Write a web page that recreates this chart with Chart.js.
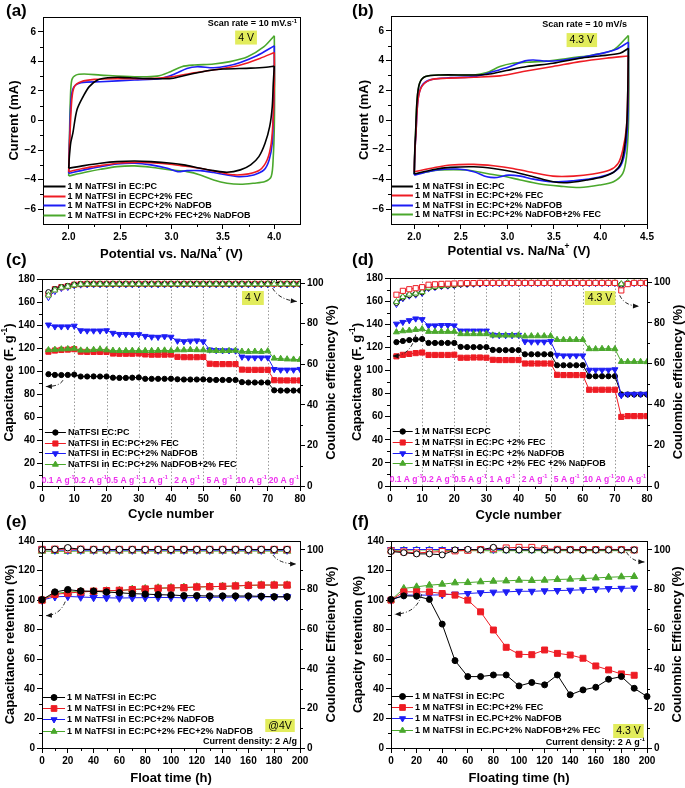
<!DOCTYPE html>
<html><head><meta charset="utf-8">
<script src="https://cdn.jsdelivr.net/npm/chart.js@4.4.1/dist/chart.umd.min.js"></script>
<style>
html,body{margin:0;padding:0;background:#fff;}
#wrap{position:relative;width:685px;height:788px;overflow:hidden;background:#fff;}
canvas{position:absolute;left:0;top:0;}
</style></head><body><div id="wrap"></div>
<script>
// ---------------- DATA ----------------
// (a) CV at 4 V : [potential V, current mA]; anodic (up) and cathodic (dn) scans
const a_blk_up=[[2.0,-3.23],[2.006,-2.5],[2.02,-1.5],[2.04,-0.87],[2.08,0.71],[2.14,1.61],[2.2,2.29],[2.28,2.74],[2.38,2.89],[2.5,2.92],[2.65,2.87],[2.8,2.83],[3.0,2.85],[3.15,3.08],[3.35,3.37],[3.5,3.48],[3.77,3.54],[3.92,3.6],[4.0,3.68]];
const a_blk_dn=[[4.0,3.68],[3.99,2.5],[3.98,0.93],[3.955,-0.42],[3.91,-1.54],[3.85,-2.44],[3.77,-3.0],[3.67,-3.34],[3.54,-3.5],[3.41,-3.39],[3.28,-3.23],[3.12,-3.0],[3.0,-2.89],[2.8,-2.78],[2.64,-2.74],[2.47,-2.78],[2.31,-2.89],[2.15,-3.05],[2.0,-3.23]];
const a_red_up=[[2.0,-3.46],[2.006,-2.0],[2.013,-0.87],[2.03,1.39],[2.055,2.29],[2.12,2.62],[2.25,2.78],[2.5,2.83],[2.8,2.83],[3.0,2.96],[3.22,3.23],[3.5,3.52],[3.67,3.75],[3.86,4.2],[4.0,4.6]];
const a_red_dn=[[4.0,4.6],[4.0,2.5],[3.99,0.26],[3.97,-1.54],[3.93,-2.67],[3.86,-3.34],[3.75,-3.61],[3.61,-3.68],[3.48,-3.52],[3.28,-3.23],[3.09,-3.05],[2.96,-2.94],[2.8,-2.85],[2.64,-2.83],[2.47,-2.89],[2.31,-3.05],[2.15,-3.23],[2.0,-3.46]];
const a_blu_up=[[2.0,-3.57],[2.005,-2.0],[2.01,-0.87],[2.023,1.39],[2.048,2.24],[2.12,2.55],[2.31,2.62],[2.64,2.74],[2.9,2.85],[3.03,3.14],[3.15,3.52],[3.25,3.64],[3.41,3.57],[3.54,3.68],[3.67,3.93],[3.83,4.38],[4.0,5.05]];
const a_blu_dn=[[4.0,5.05],[4.0,2.5],[3.99,0.26],[3.98,-1.54],[3.95,-2.67],[3.9,-3.34],[3.8,-3.68],[3.67,-3.8],[3.54,-3.68],[3.41,-3.52],[3.28,-3.39],[3.15,-3.39],[3.06,-3.46],[2.96,-3.23],[2.8,-3.0],[2.64,-2.89],[2.47,-2.94],[2.31,-3.12],[2.15,-3.34],[2.0,-3.57]];
const a_grn_up=[[2.0,-3.75],[2.004,-2.0],[2.008,-0.87],[2.016,1.39],[2.03,2.74],[2.07,3.07],[2.15,3.14],[2.31,3.07],[2.64,2.96],[2.86,3.0],[2.99,3.3],[3.1,3.64],[3.22,3.75],[3.41,3.82],[3.57,3.98],[3.74,4.31],[3.9,4.99],[4.0,5.73]];
const a_grn_dn=[[4.0,5.73],[4.003,2.5],[4.0,-0.42],[3.99,-2.44],[3.97,-3.79],[3.91,-4.13],[3.8,-4.24],[3.67,-4.31],[3.54,-4.24],[3.41,-4.02],[3.28,-3.68],[3.15,-3.46],[2.99,-3.34],[2.8,-3.16],[2.64,-3.07],[2.47,-3.12],[2.31,-3.3],[2.15,-3.52],[2.0,-3.75]];
// (b) CV at 4.3 V
const b_blk_up=[[2.0,-3.64],[2.005,-2.2],[2.014,-0.9],[2.03,1.35],[2.057,2.47],[2.12,2.92],[2.28,3.03],[2.64,3.03],[2.81,3.1],[2.99,3.33],[3.21,3.6],[3.49,3.82],[3.78,4.16],[3.99,4.31],[4.21,4.49],[4.3,4.83]];
const b_blk_dn=[[4.3,4.83],[4.295,2.47],[4.285,0],[4.26,-1.8],[4.22,-2.92],[4.15,-3.48],[4.03,-3.82],[3.85,-4.04],[3.64,-4.22],[3.49,-4.16],[3.28,-3.82],[3.06,-3.48],[2.85,-3.26],[2.64,-3.15],[2.39,-3.19],[2.21,-3.33],[2.0,-3.64]];
const b_red_up=[[2.0,-3.48],[2.006,-2.2],[2.018,-0.9],[2.04,1.35],[2.08,2.25],[2.17,2.7],[2.35,2.81],[2.64,2.88],[2.92,2.97],[3.17,3.26],[3.49,3.6],[3.78,3.93],[4.06,4.16],[4.3,4.31]];
const b_red_dn=[[4.3,4.31],[4.295,2.25],[4.28,-0.45],[4.24,-2.02],[4.19,-2.92],[4.1,-3.37],[3.92,-3.64],[3.71,-3.78],[3.49,-3.78],[3.28,-3.55],[3.06,-3.26],[2.85,-3.08],[2.64,-2.99],[2.39,-3.03],[2.21,-3.21],[2.0,-3.48]];
const b_blu_up=[[2.0,-3.71],[2.006,-2.2],[2.018,-0.9],[2.04,1.35],[2.08,2.29],[2.17,2.7],[2.39,2.85],[2.64,2.92],[2.85,3.26],[3.03,3.6],[3.19,3.98],[3.28,4.04],[3.42,3.96],[3.56,4.0],[3.78,4.2],[3.99,4.45],[4.17,4.76],[4.3,5.24]];
const b_blu_dn=[[4.3,5.24],[4.3,2.25],[4.29,-0.45],[4.26,-2.25],[4.21,-3.15],[4.1,-3.64],[3.92,-3.93],[3.71,-4.09],[3.49,-4.16],[3.28,-3.98],[3.14,-3.78],[3.01,-3.71],[2.89,-3.87],[2.78,-3.82],[2.64,-3.48],[2.46,-3.3],[2.24,-3.37],[2.0,-3.71]];
const b_grn_up=[[2.0,-3.64],[2.005,-2.2],[2.014,-0.9],[2.03,1.35],[2.06,2.52],[2.12,2.92],[2.28,3.03],[2.64,3.03],[2.78,3.19],[2.92,3.6],[3.06,3.82],[3.21,3.89],[3.42,3.96],[3.71,4.2],[3.92,4.38],[4.14,4.72],[4.3,5.69]];
const b_grn_dn=[[4.3,5.69],[4.305,2.25],[4.3,-0.45],[4.28,-2.47],[4.24,-3.6],[4.14,-4.16],[3.99,-4.38],[3.78,-4.54],[3.56,-4.45],[3.35,-4.31],[3.14,-4.04],[2.99,-3.82],[2.78,-3.6],[2.56,-3.37],[2.28,-3.37],[2.0,-3.64]];

// (c),(d) rate tests: cycle numbers
const cycles=[2,4,6,8,10,12,14,16,18,20,22,24,26,28,30,32,34,36,38,40,42,44,46,48,50,52,54,56,58,60,62,64,66,68,70,72,74,76,78,80];
const rateLabels=['0.1 A g^{-1}','0.2 A g^{-1}','0.5 A g^{-1}','1 A g^{-1}','2 A g^{-1}','5 A g^{-1}','10 A g^{-1}','20 A g^{-1}'];
const rateLabelX=[5,15,25,35,45,55,65,75];
// (c) 4 V capacitance (F/g)
const c_blk=[97.2,96.6,96.5,96.6,96.9,95.2,95.2,95.3,95.2,95.2,94.2,94,94,94.2,94.4,93.2,93.2,93.2,93.2,93.3,92.8,92.6,92.6,92.6,92.7,92.3,92.2,92.2,92.2,92.2,90.3,90,90,90,90,83.2,83,83,83,83];
const c_red=[116.8,117.8,118.3,118.6,119,116.8,116.6,116.6,116.6,116.6,115.2,115,115,115,115.2,114.4,114.2,114.2,114.2,114.3,112.3,112,112,112,112.2,106.3,106,106,106,106,101.2,101,101,101,101,92,91.8,91.8,91.8,91.8];
const c_blu=[140.2,138.6,138.6,138.6,139.2,135.2,135,135,135,135.2,133,132,132,131.8,131.8,130.3,129.7,129.5,130,129.6,126.2,125.7,126.2,126.4,125.6,118.5,118,117.8,117.8,117.6,112.3,111.6,111.6,111.6,111.6,101.5,101,101,101,101.6];
const c_grn=[118.3,118.6,119,119.2,119.6,118,118,118.5,119,118.2,117.8,117.6,117.6,117.8,117.6,117.6,117.6,117.8,118,117.6,118.2,118.2,118.5,118.3,118.2,117.8,117.6,117.5,117.6,117.8,117,116.8,117,116.8,117.3,111,110.7,110.3,110.1,109.9];
// (c) coulombic efficiency (%)
const c_blk_ce=[95.5,97,98,98.6,99.2,99.5,99.6,99.6,99.6,99.6,99.6,99.6,99.6,99.6,99.6,99.6,99.6,99.6,99.6,99.6,99.6,99.6,99.6,99.6,99.6,99.6,99.6,99.6,99.6,99.6,99.6,99.6,99.6,99.6,99.6,100.8,99.6,99.6,99.6,99.6];
const c_red_ce=[94.5,97,98,98.5,99.2,99.5,99.6,99.6,99.6,99.6,99.6,99.6,99.6,99.6,99.6,99.6,99.6,99.6,99.6,99.6,99.6,99.6,99.6,99.6,99.6,99.6,99.6,99.6,99.6,99.6,99.6,99.6,99.6,99.6,99.6,99.6,99.6,99.6,99.6,99.6];
const c_blu_ce=[93,96,97.5,98,98.8,99.2,99.3,99.3,99.3,99.3,99.3,99.3,99.3,99.3,99.3,99.3,99.3,99.3,99.3,99.3,99.3,99.3,99.3,99.3,99.3,99.3,99.3,99.3,99.3,99.3,99.3,99.3,99.3,99.3,99.3,99.3,99.3,99.3,99.3,99.3];
const c_grn_ce=[94,96.5,97.8,98.3,99,99.4,99.5,99.5,99.5,99.5,99.5,99.5,99.5,99.5,99.5,99.5,99.5,99.5,99.5,99.5,99.5,99.5,99.5,99.5,99.5,99.5,99.5,99.5,99.5,99.5,99.5,99.5,99.5,99.5,99.5,99.5,99.5,99.5,99.5,99.5];
// (d) 4.3 V capacitance (F/g)
const d_blk=[124.5,125.5,126.3,126.8,127.2,123.8,123.8,123.8,123.8,123.8,120.4,120.2,120.2,120.2,120.2,117.8,117.6,117.6,117.6,117.6,114,114,114,114,114,104.5,104.5,104.5,104.5,104.6,95,95,95,95,95,79.3,79.2,79.2,79.2,79.2];
const d_red=[112.2,113.5,114.3,115,115.5,113.4,113.4,113.4,113.4,113.6,111,111,111.2,111.2,111,109.2,109,109,109,109,106,106,106,106,106,96.2,96,96,96,96,83.3,83.3,83.3,83.3,83.3,59.8,60.5,60.5,60.5,60.5];
const d_blu=[140.3,141.8,143.3,144.8,144.2,138.8,138.8,139.1,139.1,138.8,134.3,134.3,134.3,134.3,134.3,130.8,130.4,130.4,130.4,130.6,125,124.8,124.8,124.8,125.2,113.3,112.8,112.8,112.8,112.8,100.4,100.4,100.4,100.4,100.8,78.4,79.5,79.5,79.6,79.6];
const d_grn=[133.2,134.1,134.6,135.3,135.8,133.6,133.6,133.6,133.6,133.6,131.6,131.6,131.6,131.6,131.6,130.4,130.4,130.4,130.4,130.4,129.6,129.8,129.8,129.8,129.8,126.6,126.6,126.6,126.6,126.6,118.6,118.6,118.8,118.8,118.6,107.6,107.6,107.6,107.6,107.4];
// (d) coulombic efficiency (%)
const d_blk_ce=[89.8,92.4,93.6,94.2,95,97.2,97.6,98.1,98.3,98.5,98.9,99.1,99.2,99.3,99.4,99.5,99.5,99.5,99.5,99.5,99.5,99.5,99.5,99.5,99.5,99.5,99.5,99.5,99.5,99.5,99.5,99.5,99.5,99.5,99.5,98.8,99.5,99.5,99.5,99.5];
const d_red_ce=[93.8,95.7,96.5,97,97.5,98.7,98.9,99.1,99.2,99.3,99.4,99.5,99.5,99.6,99.6,99.6,99.6,99.6,99.6,99.6,99.6,99.6,99.6,99.6,99.6,99.6,99.6,99.6,99.6,99.6,99.6,99.6,99.6,99.6,99.6,95.9,99,99.6,99.6,99.6];
const d_blu_ce=[89.2,92,93.3,93.8,94.6,97,97.5,98,98.2,98.4,98.9,99,99.1,99.2,99.3,99.4,99.4,99.5,99.5,99.5,99.5,99.5,99.5,99.5,99.5,99.5,99.5,99.5,99.5,99.5,99.5,99.5,99.5,99.5,99.5,97.6,99.3,99.5,99.5,99.5];
const d_grn_ce=[90.3,92.8,94,94.5,95.2,97.3,97.8,98.2,98.5,98.6,99,99.2,99.3,99.4,99.5,99.6,99.6,99.6,99.6,99.6,99.6,99.6,99.6,99.6,99.6,99.6,99.6,99.6,99.6,99.6,99.6,99.6,99.6,99.6,99.6,99.1,99.6,99.6,99.6,99.6];

// (e),(f) float tests: time (h)
const floatTime=[0,10,20,30,40,50,60,70,80,90,100,110,120,130,140,150,160,170,180,190];
const floatTimeBlkF=[0,10,20,30,40,50,60,70,80,90,100,110,120,130,140,150,160,170,180,190,200];
// (e) 4 V retention (%)
const e_blk=[100.3,105.5,107.1,106.2,106,105.5,105,104.4,104.1,103.7,103.5,103,103,102.8,102.8,102.8,102.8,102.6,102.3,102.3];
const e_red=[100,103.9,104.8,105.5,106,106.4,106.6,107.1,107.5,108,108.2,108.4,108.9,109.1,109.3,109.6,110,110.2,110.2,110.2];
const e_blu=[100,102.3,102.5,102.1,101.8,101.6,101.4,101.6,101.7,101.8,101.8,101.6,101.8,101.9,102,102,102.1,102.2,102.2,102.2];
const e_grn=[100,104.5,105.5,105.8,106,106.2,106.5,107.3,107.7,108.2,108.4,108.6,108.9,109.1,109.3,109.6,110,110.2,110.2,110.2];
// (e) coulombic efficiency (%)
const e_blk_ce=[100,100.3,101.1,100.3,100.2,100.2,100.2,100.2,100.2,100.2,100.2,100.2,100.2,100.2,100.2,100.2,100.2,100.2,100.2,100.2];
const e_red_ce=[100.2,100.3,100.4,100.3,100.2,100.2,100.2,100.2,100.2,100.2,100.2,100.2,100.2,100.2,100.2,100.2,100.2,100.2,100.2,100.2];
const e_blu_ce=[100.4,99.9,99.9,99.9,99.9,99.9,99.9,99.9,99.9,99.9,99.9,99.9,99.9,99.9,99.9,99.9,99.9,99.9,99.9,99.9];
const e_grn_ce=[99.4,99.3,99.3,99.4,99.4,99.4,99.4,99.4,99.4,99.4,99.4,99.4,99.4,99.4,99.4,99.4,99.4,99.4,99.4,99.4];
// (f) 4.3 V retention (%)
const f_blk=[100.5,102.9,102.7,100.5,83.8,59.1,48.3,48.3,49.4,49.4,42,44.3,42.7,49.4,36,39.3,41.1,46.5,48.3,40.4,34.8];
const f_red=[100,105.6,105.6,105.6,104.5,103.4,100,92.1,79.8,68.1,63.4,63.1,66.3,64,62.9,60.7,55.5,52.8,50.1,49.2];
const f_blu=[100,103.4,103.4,103.4,103.6,104.1,104.5,105,105.4,105.6,106,106,106.3,106.5,106.7,107,107.5,107.8,108,108.2];
const f_grn=[100,107.9,109,110.1,110.8,111.7,111.9,112.4,112.8,113,113.5,113.3,113.5,114,114.2,114.6,115,115.5,115.8,116];
// (f) coulombic efficiency (%)
const f_blk_ce=[99.2,98.6,98,98,97.5,100,100.3,100,101.3,100,100,100,100,100,100,100,100,100,100,100];
const f_red_ce=[99.6,99,98.5,98.8,99.2,99.5,99.8,100.2,100.6,101,101.3,101.3,100.6,100.3,100.2,100.2,100.2,100.3,100.2,100];
const f_blu_ce=[100.2,100.2,100.2,100.2,100.2,100.2,100.2,100.2,100.2,100.2,100.2,100.2,100.2,100.2,100.2,100.2,100.2,100.2,100.2,100.2];
const f_grn_ce=[99.8,99.9,100,100,99.8,99.6,99.6,99.6,99.6,99.6,99.6,99.6,99.6,99.6,99.6,99.6,99.6,99.6,99.6,99.6];

// tick values
const cvY=[-6,-4,-2,0,2,4,6], cvYm=[-5,-3,-1,1,3,5];
const cvAX=[2.0,2.5,3.0,3.5,4.0], cvAXm=[2.25,2.75,3.25,3.75];
const cvBX=[2.0,2.5,3.0,3.5,4.0,4.5], cvBXm=[2.25,2.75,3.25,3.75,4.25];
const cycX=[0,10,20,30,40,50,60,70,80], cycXm=[5,15,25,35,45,55,65,75];
const capY=[0,20,40,60,80,100,120,140,160,180], capYm=[10,30,50,70,90,110,130,150,170];
const ceY=[0,20,40,60,80,100], ceYm=[10,30,50,70,90];
const timeX=[0,20,40,60,80,100,120,140,160,180,200], timeXm=[10,30,50,70,90,110,130,150,170,190];
const retY=[0,20,40,60,80,100,120,140], retYm=[10,30,50,70,90,110,130];

// ---------------- STYLE ----------------
const FF='"Liberation Sans", Arial, Helvetica, sans-serif';
const COL={blk:'#000000',red:'#ee1c24',blu:'#1d1df5',grn:'#4aa82c'};
const YEL='#e2ec5c', MAG='#ee30ee';
Chart.defaults.font.family=FF;
Chart.defaults.color='#000';

const pairs=a=>a.map(p=>({x:p[0],y:p[1]}));
const zip=(xs,ys)=>ys.map((v,i)=>({x:xs[i],y:v}));
const neg=v=>(v<0?'\u2212':'')+Math.abs(v);
const f1=v=>v.toFixed(1);
const fi=v=>String(v);

function axis(pos,min,max,ticks,fmt,size){
  return {type:'linear',position:pos,min,max,
    afterBuildTicks:s=>{s.ticks=ticks.map(v=>({value:v}));},
    afterFit:s=>{if(pos==='bottom')s.height=size;else s.width=size;},
    ticks:{font:{size:10,weight:'bold'},color:'#000',padding:2,maxRotation:0,autoSkip:false,callback:v=>fmt(v)},
    grid:{drawOnChartArea:false,drawTicks:true,tickLength:5,tickWidth:1,tickColor:'#000',color:'#000'},
    border:{display:true,color:'#000',width:1},title:{display:false}};
}

function rich(ctx,text,x,y,size,align,weight,color){
  const parts=[];const re=/\^\{([^}]*)\}/g;let last=0,m;
  while((m=re.exec(text))){if(m.index>last)parts.push([text.slice(last,m.index),0]);parts.push([m[1],1]);last=re.lastIndex;}
  if(last<text.length)parts.push([text.slice(last),0]);
  const fnt=s=>`${weight} ${s}px ${FF}`;
  let w=0;parts.forEach(p=>{ctx.font=fnt(p[1]?size*0.65:size);w+=ctx.measureText(p[0]).width;});
  let cx=align==='center'?x-w/2:align==='right'?x-w:x;
  ctx.fillStyle=color||'#000';ctx.textBaseline='middle';ctx.textAlign='left';
  parts.forEach(p=>{const s=p[1]?size*0.65:size;ctx.font=fnt(s);ctx.fillText(p[0],cx,p[1]?y-size*0.33:y);cx+=ctx.measureText(p[0]).width;});
  return w;
}

function mark(ctx,style,x,y,r,fill,stroke){
  ctx.beginPath();
  if(style==='circle')ctx.arc(x,y,r,0,Math.PI*2);
  else if(style==='rect'){const s=r*Math.SQRT1_2;ctx.rect(x-s,y-s,2*s,2*s);}
  else{const rot=style==='down'?Math.PI:0;for(let k=0;k<3;k++){const a=rot+k*2*Math.PI/3;const px=x+Math.sin(a)*r,py=y-Math.cos(a)*r;k?ctx.lineTo(px,py):ctx.moveTo(px,py);}ctx.closePath();}
  ctx.fillStyle=fill;ctx.fill();ctx.strokeStyle=stroke;ctx.lineWidth=1;ctx.stroke();
}

function deco(cfg){
  return {id:'deco',
    beforeDatasetsDraw(chart){
      if(!cfg.vlines)return;const ctx=chart.ctx,a=chart.chartArea,sx=chart.scales.x;
      ctx.save();ctx.strokeStyle='#9a9a9a';ctx.lineWidth=1;ctx.setLineDash([1.5,2]);
      cfg.vlines.forEach(v=>{const p=Math.round(sx.getPixelForValue(v))+0.5;ctx.beginPath();ctx.moveTo(p,a.top);ctx.lineTo(p,a.bottom);ctx.stroke();});
      ctx.restore();
    },
    afterDraw(chart){
      const ctx=chart.ctx,a=chart.chartArea,sx=chart.scales.x,sy=chart.scales.y;
      const X=v=>sx.getPixelForValue(v),Y=v=>sy.getPixelForValue(v);
      ctx.save();
      // frame
      ctx.strokeStyle='#000';ctx.lineWidth=1;ctx.setLineDash([]);
      ctx.strokeRect(Math.round(a.left)+0.5,Math.round(a.top)+0.5,Math.round(a.right-a.left),Math.round(a.bottom-a.top));
      // minor ticks
      ctx.beginPath();
      (cfg.minor.x||[]).forEach(v=>{const p=Math.round(X(v))+0.5;ctx.moveTo(p,a.bottom);ctx.lineTo(p,a.bottom+3);});
      (cfg.minor.y||[]).forEach(v=>{const p=Math.round(Y(v))+0.5;ctx.moveTo(a.left,p);ctx.lineTo(a.left-3,p);});
      if(chart.scales.y1)(cfg.minor.y1||[]).forEach(v=>{const p=Math.round(chart.scales.y1.getPixelForValue(v))+0.5;ctx.moveTo(a.right,p);ctx.lineTo(a.right+3,p);});
      ctx.stroke();
      // titles
      const TS=13;
      rich(ctx,cfg.tx,(a.left+a.right)/2,a.bottom+cfg.toff[0],TS,'center','bold');
      ctx.save();ctx.translate(a.left-cfg.toff[1],(a.top+a.bottom)/2);ctx.rotate(-Math.PI/2);rich(ctx,cfg.ty,0,0,TS,'center','bold');ctx.restore();
      if(cfg.ty1){ctx.save();ctx.translate(a.right+cfg.toff[2],(a.top+a.bottom)/2);ctx.rotate(-Math.PI/2);rich(ctx,cfg.ty1,0,0,TS,'center','bold');ctx.restore();}
      // panel letter
      rich(ctx,cfg.letter[0],cfg.letter[1],cfg.letter[2],17,'left','bold');
      // texts
      (cfg.texts||[]).forEach(t=>{rich(ctx,t.s,X(t.x),Y(t.y),t.size||9,t.align||'center',t.w||'bold',t.c);});
      // yellow boxes
      (cfg.boxes||[]).forEach(t=>{ctx.font=`normal ${t.size||10.5}px ${FF}`;const w=ctx.measureText(t.s).width+6,h=t.h||14;const cx=X(t.x),cy=Y(t.y);
        ctx.fillStyle=YEL;ctx.fillRect(cx-w/2,cy-h/2,w,h);rich(ctx,t.s,cx,cy+0.5,t.size||10.5,'center','normal');});
      // arrows
      (cfg.arrows||[]).forEach(ar=>{const p0=[X(ar[0][0]),Y(ar[0][1])],pc=[X(ar[1][0]),Y(ar[1][1])],p1=[X(ar[2][0]),Y(ar[2][1])];
        ctx.strokeStyle='#222';ctx.lineWidth=1;ctx.setLineDash([4,2,1,2]);ctx.beginPath();ctx.moveTo(p0[0],p0[1]);ctx.quadraticCurveTo(pc[0],pc[1],p1[0],p1[1]);ctx.stroke();ctx.setLineDash([]);
        const ang=Math.atan2(p1[1]-pc[1],p1[0]-pc[0]);ctx.fillStyle='#111';ctx.beginPath();ctx.moveTo(p1[0],p1[1]);
        ctx.lineTo(p1[0]-6*Math.cos(ang)+2.5*Math.sin(ang),p1[1]-6*Math.sin(ang)-2.5*Math.cos(ang));
        ctx.lineTo(p1[0]-6*Math.cos(ang)-2.5*Math.sin(ang),p1[1]-6*Math.sin(ang)+2.5*Math.cos(ang));ctx.closePath();ctx.fill();});
      // legend
      const L=cfg.legend;
      if(L){const x0=X(L.x),y0=Y(L.y);
        L.items.forEach((it,i)=>{const y=Math.round(y0+i*L.dy)+0.5;ctx.strokeStyle=it.c;ctx.lineWidth=L.lw||1;ctx.beginPath();ctx.moveTo(x0,y);ctx.lineTo(x0+L.len,y);ctx.stroke();
          if(it.m)mark(ctx,it.m,x0+L.len/2,y,it.r||3,it.c,it.c);
          rich(ctx,it.t,x0+L.len+2,y,9,'left','bold');});}
      ctx.restore();
    }};
}

function panel(cfg){
  const c=document.createElement('canvas');c.width=685;c.height=788;c.style.width='685px';c.style.height='788px';
  document.getElementById('wrap').appendChild(c);
  const [L,T,R,B]=cfg.rect;const WL=36,WR=cfg.y1?36:0,HB=22;
  const scales={x:axis('bottom',cfg.x[0],cfg.x[1],cfg.x[2],cfg.x[3],HB),y:axis('left',cfg.y[0],cfg.y[1],cfg.y[2],cfg.y[3],WL)};
  if(cfg.y1)scales.y1=axis('right',cfg.y1[0],cfg.y1[1],cfg.y1[2],cfg.y1[3],WR);
  new Chart(c,{type:'line',data:{datasets:cfg.datasets},
    options:{responsive:false,animation:false,devicePixelRatio:1,events:[],
      layout:{padding:{left:L-WL,top:T,right:685-R-WR,bottom:788-B-HB}},
      plugins:{legend:{display:false},tooltip:{enabled:false}},scales,
      elements:{line:{borderWidth:1,tension:0},point:{radius:0}}},
    plugins:[deco(cfg)]});
}

function cvSet(d,col){return {data:pairs(d),borderColor:col,borderWidth:1.6,tension:0.3,pointRadius:0,fill:false};}
const PT={blk:['circle',0],red:['rect',0],blu:['triangle',180],grn:['triangle',0]};
const PR={blk:3,red:4.2,blu:4,grn:4};
function sym(xs,ys,k,axisId,open,r,clip){
  return {data:zip(xs,ys),yAxisID:axisId,borderColor:COL[k],borderWidth:1,pointStyle:PT[k][0],pointRotation:PT[k][1],
    pointRadius:r*(k==='blk'?1:PR[k]/3),pointBorderColor:COL[k],pointBackgroundColor:open?'#fff':COL[k],pointBorderWidth:1,tension:0,clip:clip};
}

// (a)
panel({rect:[43,17,300,224],x:[1.75,4.25,cvAX,f1],y:[-7,7,cvY,neg],minor:{x:cvAXm,y:cvYm},
  datasets:[cvSet(a_blk_up,COL.blk),cvSet(a_blk_dn,COL.blk),cvSet(a_red_up,COL.red),cvSet(a_red_dn,COL.red),cvSet(a_blu_up,COL.blu),cvSet(a_blu_dn,COL.blu),cvSet(a_grn_up,COL.grn),cvSet(a_grn_dn,COL.grn)],
  tx:'Potential vs. Na/Na^{+} (V)',ty:'Current (mA)',toff:[30,29,0],letter:['(a)',6,11],
  texts:[{s:'Scan rate = 10 mV.s^{-1}',x:4.221,y:6.53,align:'right'}],boxes:[{s:'4 V',x:3.725,y:5.61}],
  legend:{x:1.755,y:-4.41,dy:9.8,len:22,lw:2,items:[{c:COL.blk,t:'1 M NaTFSI in EC:PC'},{c:COL.red,t:'1 M NaTFSI in ECPC+2% FEC'},{c:COL.blu,t:'1 M NaTFSI in ECPC+2% NaDFOB'},{c:COL.grn,t:'1 M NaTFSI in ECPC+2% FEC+2% NaDFOB'}]}});
// (b)
panel({rect:[391,16,647,224],x:[1.75,4.5,cvBX,f1],y:[-7,7,cvY,neg],minor:{x:cvBXm,y:cvYm},
  datasets:[cvSet(b_blk_up,COL.blk),cvSet(b_blk_dn,COL.blk),cvSet(b_red_up,COL.red),cvSet(b_red_dn,COL.red),cvSet(b_blu_up,COL.blu),cvSet(b_blu_dn,COL.blu),cvSet(b_grn_up,COL.grn),cvSet(b_grn_dn,COL.grn)],
  tx:'Potential vs. Na/Na^{+} (V)',ty:'Current (mA)',toff:[27,27,0],letter:['(b)',352,11],
  texts:[{s:'Scan rate = 10 mV/s',x:4.285,y:6.46,align:'right'}],boxes:[{s:'4.3 V',x:3.80,y:5.38}],
  legend:{x:1.76,y:-4.42,dy:9.6,len:21,lw:2,items:[{c:COL.blk,t:'1 M NaTFSI in EC:PC'},{c:COL.red,t:'1 M NaTFSI in EC:PC+2% FEC'},{c:COL.blu,t:'1 M NaTFSI in EC:PC+2% NaDFOB'},{c:COL.grn,t:'1 M NaTFSI in EC:PC+2% NaDFOB+2% FEC'}]}});
// (c)
panel({rect:[42,279,300,486],x:[0,80,cycX,fi],y:[0,180,capY,fi],y1:[0,102,ceY,fi],minor:{x:cycXm,y:capYm,y1:ceYm},vlines:[10,20,30,40,50,60,70],
  datasets:[sym(cycles,c_grn_ce,'grn','y1',true,2.6),sym(cycles,c_blk_ce,'blk','y1',true,2.6),sym(cycles,c_red_ce,'red','y1',true,2.6),sym(cycles,c_blu_ce,'blu','y1',true,2.6),
    sym(cycles,c_blk,'blk','y',false,2.6),sym(cycles,c_grn,'grn','y',false,2.6),sym(cycles,c_red,'red','y',false,2.6),sym(cycles,c_blu,'blu','y',false,2.6)],
  tx:'Cycle number',ty:'Capacitance (F. g^{-1})',ty1:'Coulombic efficiency (%)',toff:[28,33,31],letter:['(c)',6,260],
  texts:rateLabels.map((s,i)=>({s,x:rateLabelX[i],y:5,size:8.5,c:MAG})),boxes:[{s:'4 V',x:65.4,y:163.5}],
  arrows:[[[6.5,92],[5.5,86.5],[1.2,86.5]],[[71.5,172],[73.5,162],[79,160.5]]],
  legend:{x:0.9,y:47.2,dy:10.8,len:21,items:[{c:COL.blk,m:'circle',r:2.7,t:'NaTFSI EC:PC'},{c:COL.red,m:'rect',r:3.6,t:'NaTFSI in EC:PC+2% FEC'},{c:COL.blu,m:'down',r:3.4,t:'NaTFSI in EC:PC+2% NaDFOB'},{c:COL.grn,m:'up',r:3.4,t:'NaTFSI in EC:PC+2% NaDFOB+2% FEC'}]}});
// (d)
panel({rect:[390,278,647,486],x:[0,80,cycX,fi],y:[0,180,capY,fi],y1:[0,102,ceY,fi],minor:{x:cycXm,y:capYm,y1:ceYm},vlines:[10,20,30,40,50,60,70],
  datasets:[sym(cycles,d_red_ce,'red','y1',true,2.6),sym(cycles,d_grn_ce,'grn','y1',true,2.6),sym(cycles,d_blk_ce,'blk','y1',true,2.6),sym(cycles,d_blu_ce,'blu','y1',true,2.6),
    sym(cycles,d_grn,'grn','y',false,2.6),sym(cycles,d_blu,'blu','y',false,2.6),sym(cycles,d_blk,'blk','y',false,2.6),sym(cycles,d_red,'red','y',false,2.6)],
  tx:'Cycle number',ty:'Capacitance (F. g^{-1})',ty1:'Coulombic efficiency (%)',toff:[29,33,31],letter:['(d)',352,260],
  texts:rateLabels.map((s,i)=>({s,x:rateLabelX[i],y:5.5,size:8.5,c:MAG})),boxes:[{s:'4.3 V',x:65.4,y:162.7}],
  arrows:[[[8,131],[6.5,112.5],[0.8,112.5]],[[71.5,165],[73,156],[77.5,155.5]]],
  legend:{x:0.84,y:47.6,dy:10.8,len:20,items:[{c:COL.blk,m:'circle',r:2.7,t:'1 M NaTFSI ECPC'},{c:COL.red,m:'rect',r:3.6,t:'1 M NaTFSI in EC:PC +2% FEC'},{c:COL.blu,m:'down',r:3.4,t:'1 M NaTFSI in EC:PC +2% NaDFOB'},{c:COL.grn,m:'up',r:3.4,t:'1 M NaTFSI in EC:PC +2% FEC +2% NaDFOB'}]}});
// (e)
panel({rect:[42,541,300,748],x:[0,200,timeX,fi],y:[0,140,retY,fi],y1:[0,104.5,ceY,fi],minor:{x:timeXm,y:retYm,y1:ceYm},
  datasets:[sym(floatTime,e_blk_ce,'blk','y1',true,3.2,false),sym(floatTime,e_red_ce,'red','y1',true,3.2,false),sym(floatTime,e_blu_ce,'blu','y1',true,3.2,false),sym(floatTime,e_grn_ce,'grn','y1',true,3.2,false),
    sym(floatTime,e_blk,'blk','y',false,3.2,false),sym(floatTime,e_red,'red','y',false,3.2,false),sym(floatTime,e_grn,'grn','y',false,3.2,false),sym(floatTime,e_blu,'blu','y',false,3.2,false)],
  tx:'Float time (h)',ty:'Capacitance retention (%)',ty1:'Coulombic Efficiency (%)',toff:[30,32,31],letter:['(e)',6,522],
  texts:[{s:'Current density: 2 A/g',x:197.7,y:4.3,align:'right'}],boxes:[{s:'@4V',x:184.5,y:15.2,h:13}],
  arrows:[[[18,99],[14,90],[3,89.5]],[[179,130.5],[184,124.5],[197,124.5]]],
  legend:{x:0.8,y:34.7,dy:11.3,len:22,items:[{c:COL.blk,m:'circle',t:'1 M NaTFSI in EC:PC'},{c:COL.red,m:'rect',r:4,t:'1 M NaTFSI in EC:PC+2% FEC'},{c:COL.blu,m:'down',r:3.5,t:'1 M NaTFSI in EC:PC+2% NaDFOB'},{c:COL.grn,m:'up',r:3.5,t:'1 M NaTFSI in EC:PC+2% FEC+2% NaDFOB'}]}});
// (f)
panel({rect:[391,541,647,748],x:[0,200,timeX,fi],y:[0,140,retY,fi],y1:[0,104.5,ceY,fi],minor:{x:timeXm,y:retYm,y1:ceYm},
  datasets:[sym(floatTime,f_blk_ce,'blk','y1',true,3,false),sym(floatTime,f_red_ce,'red','y1',true,3,false),sym(floatTime,f_blu_ce,'blu','y1',true,3,false),sym(floatTime,f_grn_ce,'grn','y1',true,3,false),
    sym(floatTimeBlkF,f_blk,'blk','y',false,3,false),sym(floatTime,f_red,'red','y',false,3,false),sym(floatTime,f_blu,'blu','y',false,3,false),sym(floatTime,f_grn,'grn','y',false,3,false)],
  tx:'Floating time (h)',ty:'Capacity retention (%)',ty1:'Coulombic Efficiency (%)',toff:[30,33,30],letter:['(f)',352,522],
  texts:[{s:'Current density: 2 A g^{-1}',x:198.4,y:4,align:'right'}],boxes:[{s:'4.3 V',x:185.5,y:11.5}],
  arrows:[[[24,104],[20,91],[3,90.5]],[[184,132.5],[188,126],[198,125.8]]],
  legend:{x:0.8,y:35.4,dy:11.4,len:21,items:[{c:COL.blk,m:'circle',t:'1 M NaTFSI in EC:PC'},{c:COL.red,m:'rect',r:4,t:'1 M NaTFSI in EC:PC+2% FEC'},{c:COL.blu,m:'down',r:3.5,t:'1 M NaTFSI in EC.PC+2% NaDFOB'},{c:COL.grn,m:'up',r:3.5,t:'1 M NaTFSI in EC.PC+2% NaDFOB+2% FEC'}]}});
</script></body></html>
